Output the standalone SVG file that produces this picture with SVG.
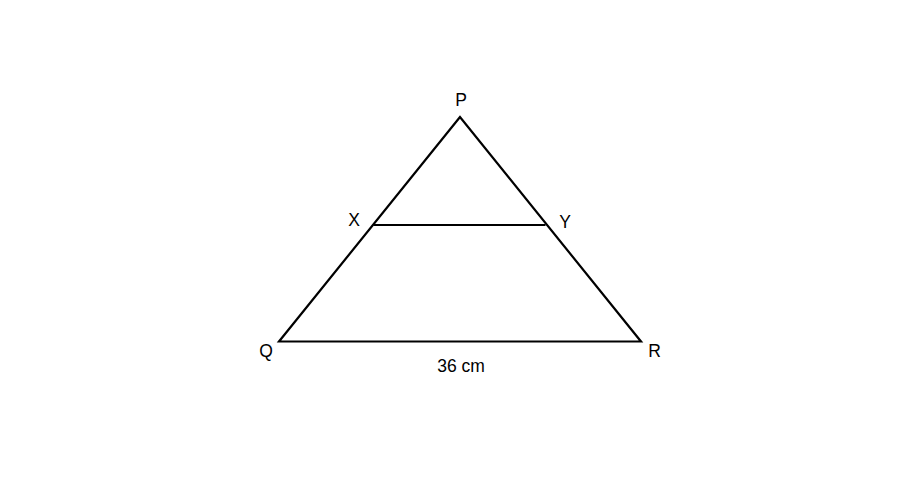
<svg xmlns="http://www.w3.org/2000/svg" width="917" height="502" viewBox="0 0 917 502">
<style>
.l{stroke:#000;stroke-width:2.2;fill:none;stroke-linejoin:miter}
.t{font-family:"Liberation Sans",Arial,sans-serif;font-size:17.5px;fill:#000}
</style>
<rect width="917" height="502" fill="#fff"/>
<g id="connectors">
<polygon class="l" points="460,117 279,341.5 641,341.5"/>
<line class="l" x1="373.5" y1="225" x2="545.5" y2="225"/>
</g>
<g id="P"><text class="t" x="461" y="106" text-anchor="middle">P</text></g>
<g id="X"><text class="t" x="354" y="226" text-anchor="middle">X</text></g>
<g id="Y"><text class="t" x="565" y="227.5" text-anchor="middle">Y</text></g>
<g id="Q"><text class="t" x="266" y="357" text-anchor="middle">Q</text></g>
<g id="R"><text class="t" x="654.5" y="357" text-anchor="middle">R</text></g>
<g id="label"><text class="t" x="461" y="372" text-anchor="middle">36 cm</text></g>
</svg>
